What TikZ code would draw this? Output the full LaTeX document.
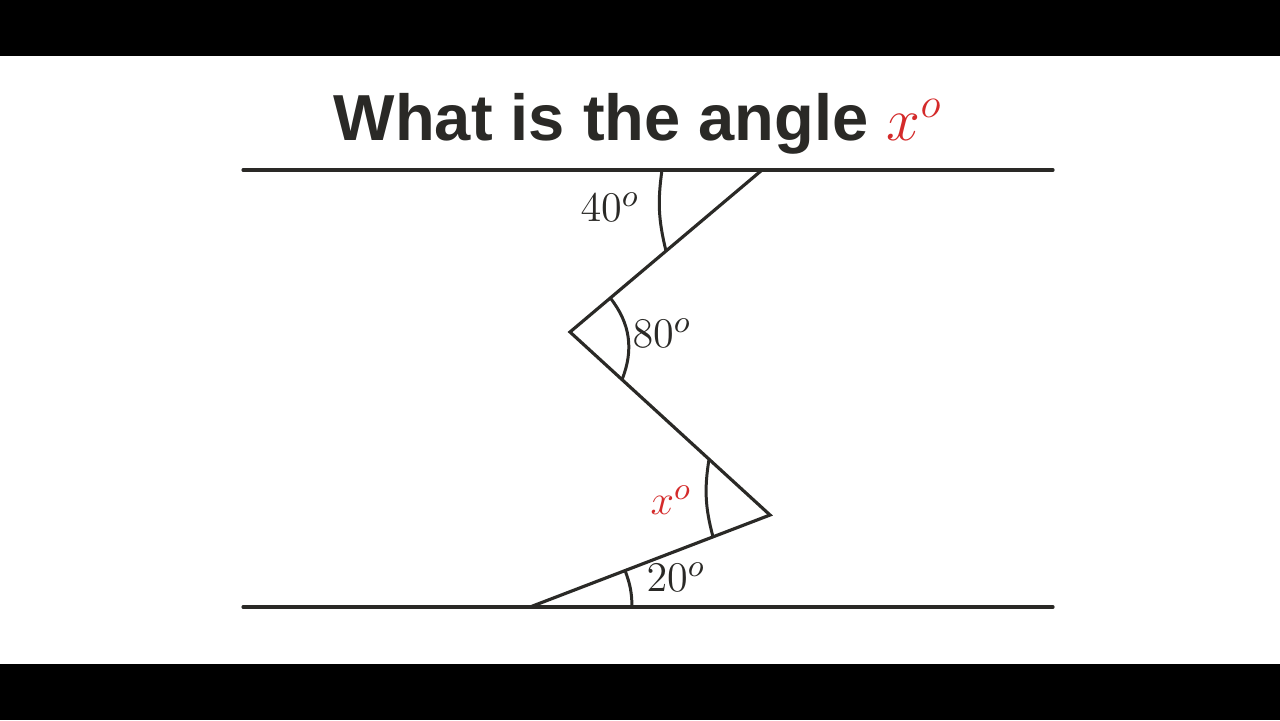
\documentclass[tikz,border=0pt]{standalone}
\usepackage{fontspec}
\usepackage{tikz}
\usetikzlibrary{positioning,calc}
\newfontfamily\titlefont{Liberation Sans}
\definecolor{ink}{HTML}{2A2926}
\definecolor{answer}{HTML}{D42A2A}

\begin{document}
\begin{tikzpicture}[x=0.01cm,y=0.01cm,
      edge/.style={draw=ink, line width=0.9pt, line cap=round},
      angmark/.style={draw=ink, line width=0.85pt},
      angle/.style={text=ink, inner sep=0pt, font=\fontsize{12.5}{14}\selectfont},
      title/.style={text=ink, inner sep=0pt, font=\titlefont\bfseries\fontsize{18.5}{22}\selectfont}
      ]
      \fill[white] (0,0) rectangle (1280,720);
      \fill[black] (0,664) rectangle (1280,720);
      \fill[black] (0,0) rectangle (1280,56);
      \node[title, anchor=base] (TITLE) at (638,580) {What is the angle {\color{answer}$x^o$}};
      \coordinate (TL) at (243,550);
      \coordinate (TR) at (1053,550);
      \coordinate (BL) at (243,113);
      \coordinate (BR) at (1053,113);
      \coordinate (A) at (762,550);
      \coordinate (B) at (570,388);
      \coordinate (C) at (770,205);
      \coordinate (D) at (530,113);
      \draw[edge] (TL) -- (TR);
      \draw[edge] (BL) -- (BR);
      \draw[edge, line join=miter] (A) -- (B) -- (C) -- (D);
      \coordinate (A1) at ($(A)+(-100,0)$);
      \coordinate (A2) at ($(A)!0.5!(B)$);
      \coordinate (B1) at ($(B)!0.21!(A)$);
      \coordinate (B2) at ($(B)!0.26!(C)$);
      \coordinate (C1) at ($(C)!0.305!(B)$);
      \coordinate (C2) at ($(C)!0.2375!(D)$);
      \coordinate (D1) at ($(D)!0.396!(C)$);
      \coordinate (D2) at ($(D)+(102,0)$);
      \draw[angmark] (A1) to[bend right=11] (A2);
      \draw[angmark] (B1) to[bend left=30] (B2);
      \draw[angmark] (C1) to[bend right=12] (C2);
      \draw[angmark] (D1) to[bend left=10] (D2);
      \node[angle] (L40) at (610,513) {$40^o$};
      \node[angle] (L80) at (662,387) {$80^o$};
      \node[angle, text=answer] (LX) at (671,220) {$x^o$};
      \node[angle] (L20) at (676,143) {$20^o$};
\end{tikzpicture}
\end{document}
